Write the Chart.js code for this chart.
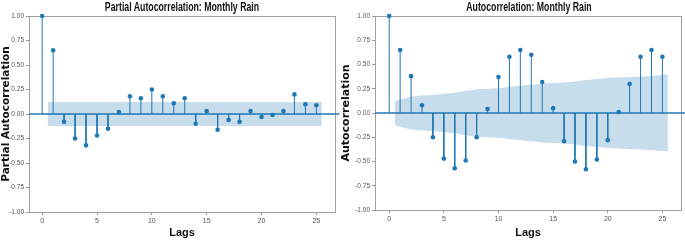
<!DOCTYPE html>
<html>
<head>
<meta charset="utf-8">
<script src="https://cdn.jsdelivr.net/npm/chart.js@4.4.1/dist/chart.umd.min.js"></script>
<style>
  html, body { margin: 0; padding: 0; background: #fff; }
  #wrap { position: relative; width: 685px; height: 240px; }
  #pacfChart { position: absolute; left: 0; top: 0; }
  #acfChart { position: absolute; left: 340px; top: 0; }
  .ttl {
    position: absolute; top: 0; width: 240px; text-align: center;
    font: bold 12.5px 'Liberation Sans', Arial, sans-serif; color: #111;
    line-height: 15px; transform: scaleX(0.7); transform-origin: center top;
    white-space: nowrap;
  }
</style>
</head>
<body>
<div id="wrap">
  <canvas id="pacfChart" width="340" height="240"></canvas>
  <canvas id="acfChart" width="345" height="240"></canvas>
  <div class="ttl" id="pacfTitle" style="left:62px">Partial Autocorrelation: Monthly Rain</div>
  <div class="ttl" id="acfTitle" style="left:409px">Autocorrelation: Monthly Rain</div>
</div>
<script>
// lags 0..25
const lags = [0, 1, 2, 3, 4, 5, 6, 7, 8, 9, 10, 11, 12, 13, 14, 15, 16, 17, 18, 19, 20, 21, 22, 23, 24, 25];

// partial autocorrelation values
const pacfValues = [1.00, 0.65, -0.08, -0.25, -0.32, -0.22, -0.15, 0.02, 0.18, 0.16, 0.25, 0.18, 0.11, 0.16,
  -0.10, 0.03, -0.16, -0.06, -0.08, 0.03, -0.03, -0.01, 0.03, 0.20, 0.10, 0.09];

// autocorrelation values
const acfValues = [1.00, 0.65, 0.38, 0.08, -0.25, -0.47, -0.57, -0.49, -0.25, 0.04, 0.37, 0.58, 0.65, 0.60,
  0.32, 0.05, -0.29, -0.50, -0.58, -0.48, -0.28, 0.01, 0.30, 0.58, 0.65, 0.58];

// confidence band half widths (lags 1..25)
const pacfConf = [0.123, 0.123, 0.123, 0.123, 0.123, 0.123, 0.123, 0.123, 0.123, 0.123, 0.123, 0.123, 0.123,
  0.123, 0.123, 0.123, 0.123, 0.123, 0.123, 0.123, 0.123, 0.123, 0.123, 0.123, 0.123];
const acfConf = [0.125, 0.17, 0.18, 0.185, 0.198, 0.21, 0.23, 0.245, 0.25, 0.255, 0.27, 0.28, 0.29,
  0.305, 0.31, 0.315, 0.325, 0.34, 0.35, 0.36, 0.365, 0.37, 0.375, 0.385, 0.395];

const yTicks = [-1, -0.75, -0.5, -0.25, 0, 0.25, 0.5, 0.75, 1];

const blue = '#1f77b4';
const bandColor = 'rgba(31,119,180,0.25)';
const sans = "'Liberation Sans', Arial, sans-serif";

// draw the box around the plot area (matplotlib spines)
const frame = {
  id: 'frame',
  beforeDatasetsDraw(chart) {
    const a = chart.chartArea;
    const ctx = chart.ctx;
    ctx.save();
    ctx.strokeStyle = '#a0a0a0';
    ctx.lineWidth = 1;
    ctx.strokeRect(Math.round(a.left) + 0.5, Math.round(a.top) + 0.5,
      Math.round(a.right - a.left), Math.round(a.bottom - a.top));
    ctx.restore();
  }
};

function makeChart(id, yTitle, values, conf, xMin, xMax, yWidth, xHeight, padRight, yTitleSize) {
  // stems: 0 -> value, then a gap
  const stems = [];
  lags.forEach((k, i) => {
    stems.push({ x: k, y: 0 });
    stems.push({ x: k, y: values[i] });
    stems.push({ x: k, y: null });
  });
  const points = lags.map((k, i) => ({ x: k, y: values[i] }));
  // band over lags 1..25, ends pushed out half a lag like statsmodels
  const bandX = lags.slice(1).map((k, i, arr) => i === 0 ? k - 0.5 : (i === arr.length - 1 ? k + 0.5 : k));
  const upper = bandX.map((x, i) => ({ x: x, y: conf[i] }));
  const lower = bandX.map((x, i) => ({ x: x, y: -conf[i] }));

  return new Chart(document.getElementById(id), {
    type: 'line',
    data: {
      datasets: [
        { data: upper, fill: '+1', backgroundColor: bandColor, borderWidth: 0, pointRadius: 0, order: 4 },
        { data: lower, fill: false, borderWidth: 0, pointRadius: 0, order: 5 },
        { data: [{ x: xMin, y: 0 }, { x: xMax + 0.4, y: 0 }], borderColor: blue, borderWidth: 1.5,
          pointRadius: 0, clip: false, order: 2 },
        { data: stems, borderColor: blue, borderWidth: 1, pointRadius: 0, spanGaps: false, order: 1 },
        { data: points, showLine: false, pointRadius: 2.3, pointBackgroundColor: blue,
          pointBorderWidth: 0, clip: false, order: 0 }
      ]
    },
    options: {
      responsive: false,
      animation: false,
      devicePixelRatio: 1,
      layout: { padding: { top: 16, right: padRight, bottom: 0, left: 0 } },
      plugins: {
        legend: { display: false },
        tooltip: { enabled: false },
        title: { display: false }
      },
      scales: {
        x: {
          type: 'linear',
          min: xMin,
          max: xMax,
          afterFit(s) { s.height = xHeight; },
          grid: { drawOnChartArea: false, drawTicks: true, tickLength: 3, color: '#999' },
          border: { display: true, color: '#a0a0a0' },
          ticks: {
            includeBounds: false,
            stepSize: 5,
            color: '#555',
            padding: 2,
            font: { family: sans, size: 7 }
          },
          title: {
            display: true,
            text: 'Lags',
            color: '#111',
            font: { family: sans, weight: 'bold', size: 11 },
            padding: { top: 3, bottom: 0 }
          }
        },
        y: {
          min: -1,
          max: 1,
          afterFit(s) { s.width = yWidth; },
          afterBuildTicks(s) { s.ticks = yTicks.map(v => ({ value: v })); },
          grid: { drawOnChartArea: false, drawTicks: true, tickLength: 3, color: '#999' },
          border: { display: true, color: '#a0a0a0' },
          ticks: {
            color: '#555',
            padding: 2,
            font: { family: sans, size: 6.5 },
            callback: v => v.toFixed(2)
          },
          title: {
            display: true,
            text: yTitle,
            color: '#111',
            font: { family: "'DejaVu Sans', sans-serif", weight: 'bold', size: yTitleSize },
            padding: { top: 0, bottom: 0 }
          }
        }
      }
    },
    plugins: [frame]
  });
}

makeChart('pacfChart', 'Partial Autocorrelation', pacfValues, pacfConf, -1.2, 26.7, 29, 28, 5, 10.5);
makeChart('acfChart', 'Autocorrelation', acfValues, acfConf, -1.3, 26.7, 35, 30, 3, 11);
</script>
</body>
</html>
